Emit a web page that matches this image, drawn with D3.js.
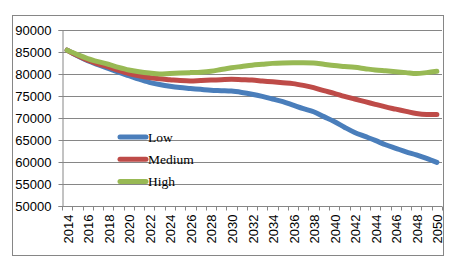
<!DOCTYPE html>
<html>
<head>
<meta charset="utf-8">
<script src="https://cdn.jsdelivr.net/npm/d3@7"></script>
<style>
  body { margin: 0; background: #fff; }
  svg { display: block; }
</style>
</head>
<body>
<div id="chart"></div>
<script>
// Scenario values by year
const years = d3.range(2014, 2051);
const yTicks = [50000, 55000, 60000, 65000, 70000, 75000, 80000, 85000, 90000];
const seriesNames = ["Low", "Medium", "High"];

const low = [85300, 84000, 82900, 82000, 81150, 80300, 79500, 78700, 78000, 77500,
             77100, 76800, 76600, 76400, 76200, 76100, 76000, 75700, 75300, 74800,
             74200, 73600, 72800, 72000, 71300, 70200, 69100, 67800, 66600, 65700,
             64800, 63800, 63000, 62200, 61500, 60700, 59800];
const medium = [85300, 84100, 83000, 82200, 81500, 80700, 80000, 79500, 79100, 78800,
                78600, 78400, 78300, 78400, 78500, 78600, 78700, 78600, 78500, 78300,
                78100, 77900, 77700, 77300, 76800, 76100, 75500, 74800, 74200, 73600,
                73000, 72400, 71900, 71400, 70900, 70700, 70700];
const high = [85300, 84300, 83400, 82700, 82100, 81400, 80800, 80400, 80100, 79900,
              80000, 80100, 80200, 80300, 80500, 80900, 81300, 81600, 81900, 82100,
              82300, 82400, 82450, 82450, 82400, 82100, 81800, 81600, 81400, 81100,
              80800, 80600, 80400, 80200, 80000, 80200, 80500];

const width = 459, height = 271;
const plot = { left: 62, right: 442, top: 29.5, bottom: 205.5 };

const svg = d3.select("#chart").append("svg")
    .attr("width", width).attr("height", height);

// outer chart frame
svg.append("rect")
    .attr("x", 12.5).attr("y", 15.5).attr("width", 431).attr("height", 240)
    .attr("fill", "none").attr("stroke", "#868686");

const x = d3.scaleBand().domain(years).range([plot.left, plot.right]).padding(0);
const y = d3.scaleLinear().domain([50000, 90000]).range([plot.bottom, plot.top]);

// gridlines
svg.append("g").selectAll("line")
    .data(yTicks.slice(1)).join("line")
    .attr("x1", plot.left).attr("x2", plot.right)
    .attr("y1", d => Math.round(y(d)) + 0.5).attr("y2", d => Math.round(y(d)) + 0.5)
    .attr("stroke", "#868686");

// y axis
const yAxis = svg.append("g")
    .attr("transform", `translate(${plot.left + 0.5},0.5)`)
    .call(d3.axisLeft(y).tickValues(yTicks).tickSize(4).tickPadding(7).tickFormat(d3.format("d")));
yAxis.select(".domain").attr("stroke", "#868686");
yAxis.selectAll(".tick line").attr("stroke", "#868686");
yAxis.selectAll("text")
    .style("font-family", "'Liberation Sans', Arial, sans-serif")
    .style("font-size", "13px").attr("fill", "#000");

// x axis: ticks between categories, labels every two years
const xAxisG = svg.append("g").attr("transform", `translate(0,${Math.round(plot.bottom) + 0.5})`);
xAxisG.append("line")
    .attr("x1", plot.left).attr("x2", plot.right)
    .attr("stroke", "#868686");
const edges = years.map(d => x(d)).concat([x(years[years.length - 1]) + x.bandwidth()]);
xAxisG.selectAll("line.tk").data(edges).join("line").attr("class", "tk")
    .attr("x1", d => Math.round(d) + 0.5).attr("x2", d => Math.round(d) + 0.5)
    .attr("y1", 0).attr("y2", 4)
    .attr("stroke", "#868686");
xAxisG.selectAll("text")
    .data(years.filter(d => (d - 2014) % 2 === 0)).join("text")
    .attr("transform", d => `translate(${x(d) + x.bandwidth() / 2 + 1},8) rotate(-90)`)
    .attr("text-anchor", "end").attr("dy", "0.35em")
    .style("font-family", "'Liberation Sans', Arial, sans-serif")
    .style("font-size", "13px")
    .text(d => d);

// series lines
const colors = d3.scaleOrdinal().domain(seriesNames).range(["#4a7ebb", "#be4b48", "#98b954"]);
const seriesData = [low, medium, high];
const line = d3.line()
    .x((d, i) => x(years[i]) + x.bandwidth() / 2)
    .y(d => y(d))
    .curve(d3.curveMonotoneX);

svg.append("g").selectAll("path")
    .data(seriesData).join("path")
    .attr("d", d => line(d))
    .attr("fill", "none")
    .attr("stroke", (d, i) => colors(seriesNames[i]))
    .attr("stroke-width", 5)
    .attr("stroke-linecap", "round")
    .attr("stroke-linejoin", "round");

// legend
const legend = svg.append("g").attr("transform", "translate(120,137)");
seriesNames.forEach((name, i) => {
    const row = legend.append("g").attr("transform", `translate(0,${i * 22.3})`);
    row.append("line")
        .attr("x1", 0).attr("x2", 26)
        .attr("stroke", colors(name)).attr("stroke-width", 5).attr("stroke-linecap", "round");
    row.append("text")
        .attr("x", 28).attr("dy", "0.35em")
        .style("font-family", "'Liberation Serif', 'Times New Roman', serif")
        .style("font-size", "13.5px")
        .text(name);
});
</script>
</body>
</html>
